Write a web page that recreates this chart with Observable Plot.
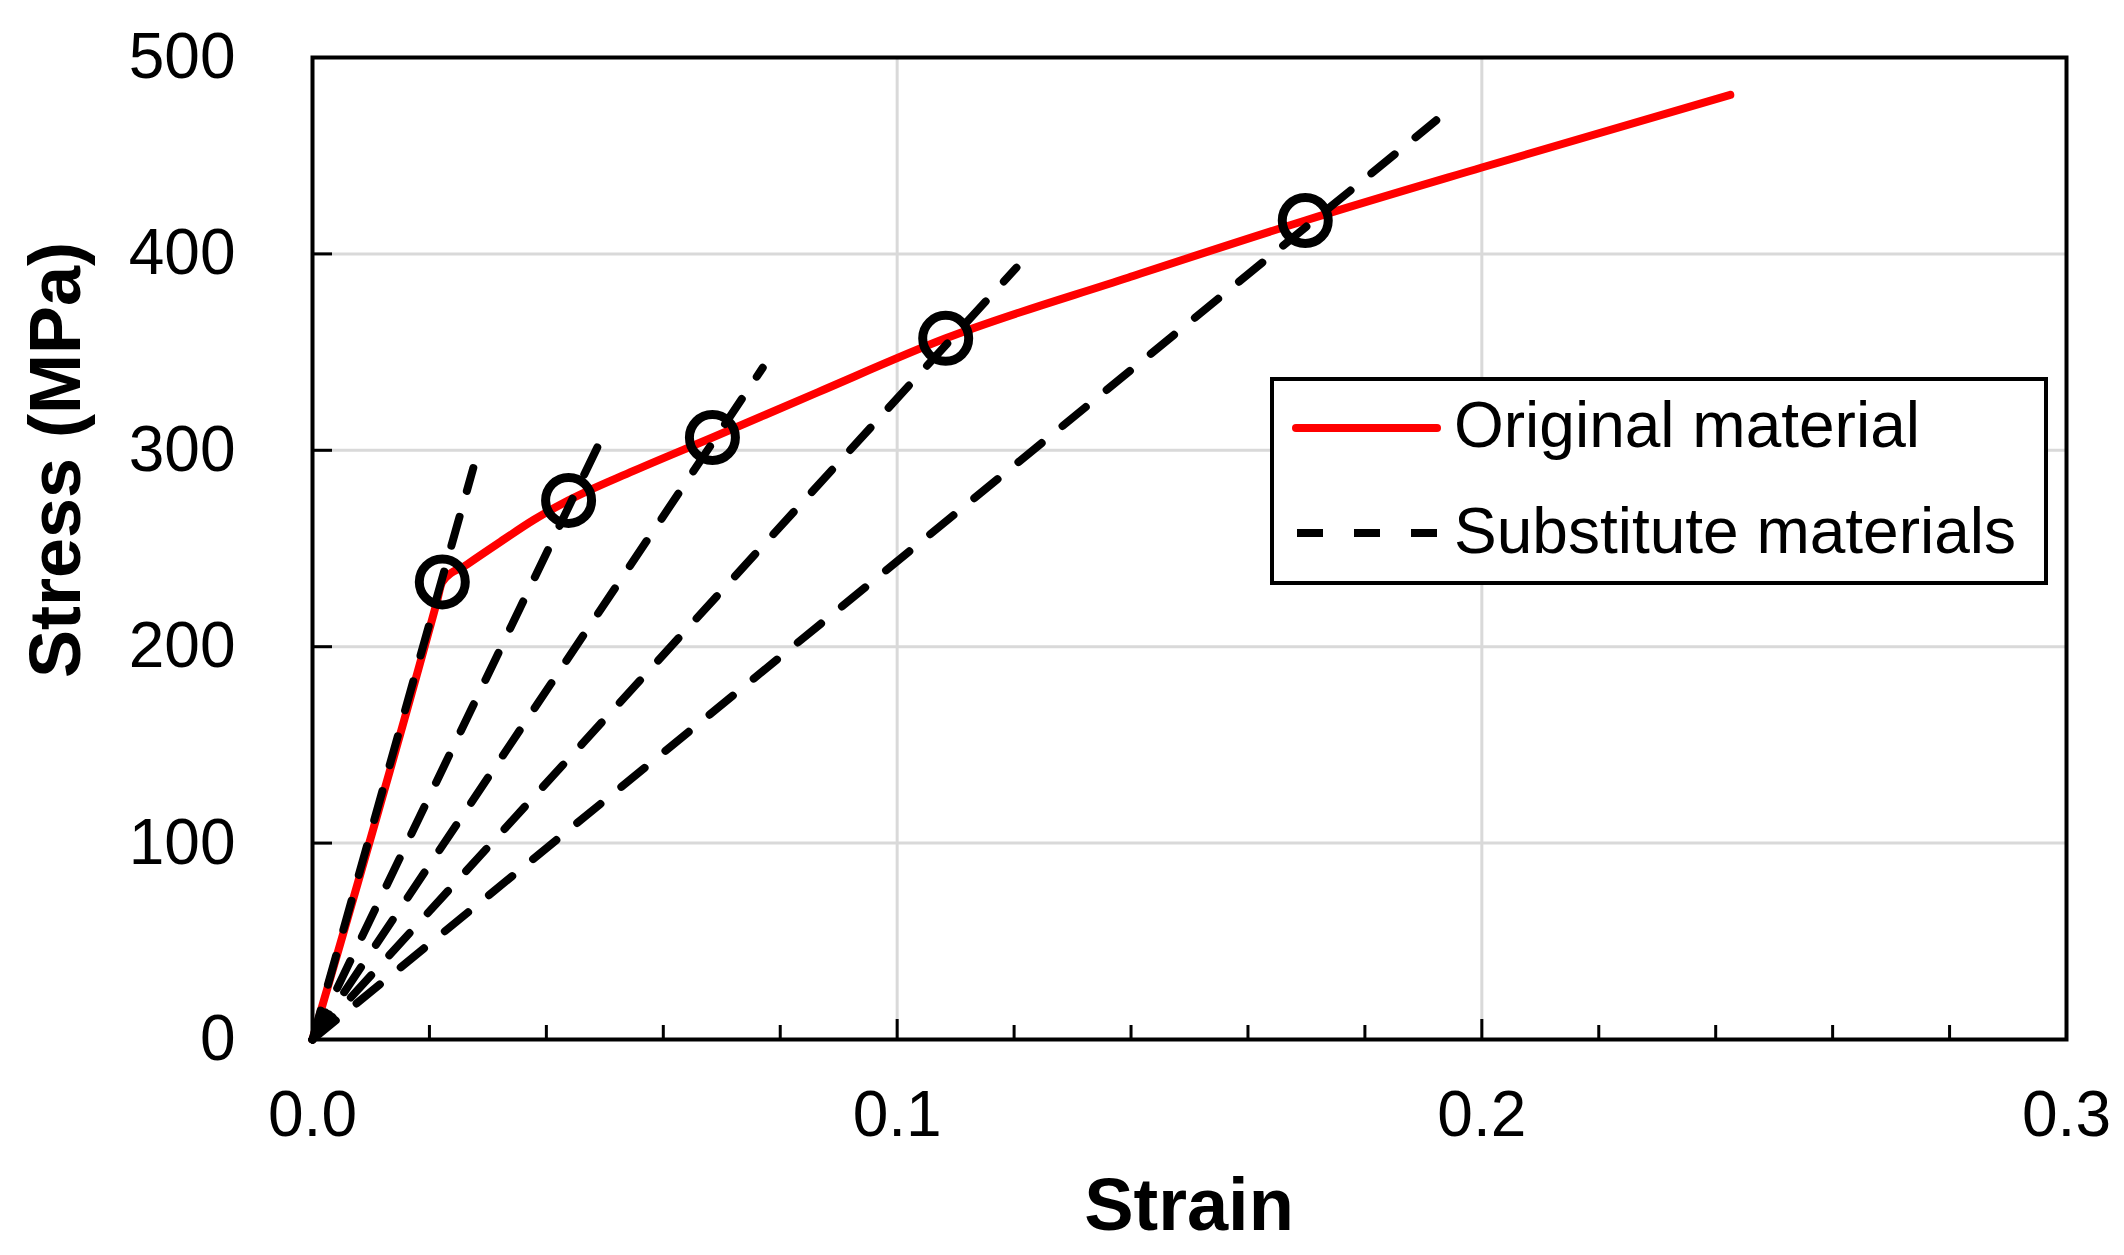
<!DOCTYPE html>
<html>
<head>
<meta charset="utf-8">
<script src="https://cdn.jsdelivr.net/npm/d3@7"></script>
<script src="https://cdn.jsdelivr.net/npm/@observablehq/plot@0.6"></script>
<style>
  html, body { margin: 0; padding: 0; background: white; }
  #chart { position: relative; width: 2124px; height: 1255px; }
</style>
</head>
<body>
<div id="chart"></div>
<script>
// Original material stress-strain curve
const strain = [0, 0.0212, 0.0222, 0.0265, 0.0322, 0.0378, 0.0438, 0.0549, 0.0684, 0.0864, 0.1083, 0.1396, 0.1698, 0.2, 0.2425];
const stress = [0, 222, 233, 242, 253.5, 264.5, 274.5, 289.5, 306.5, 329.5, 357, 388, 417, 444, 481];

// Transition points (circles)
const circleStrain = [0.0222, 0.0438, 0.0684, 0.1083, 0.1698];
const circleStress = [233, 274.5, 306.5, 357, 417];

// Substitute materials: straight lines from origin to these end points
const subEndStrain = [0.0275, 0.0496, 0.0770, 0.1204, 0.1922];
const subEndStress = [291, 307, 342, 393, 468];

// Axes
const xTicks = [0, 0.1, 0.2, 0.3];
const yTicks = [0, 100, 200, 300, 400, 500];
const xMinorTicks = [0.02, 0.04, 0.06, 0.08, 0.12, 0.14, 0.16, 0.18, 0.22, 0.24, 0.26, 0.28];
const xMajorInner = [0.1, 0.2];
const yInnerTicks = [100, 200, 300, 400];
const xGrid = [0.1, 0.2];
const yGrid = [100, 200, 300, 400];

const legendLabels = ["Original material", "Substitute materials"];

const W = 2124, H = 1255;
const mL = 312, mR = 58, mT = 57, mB = 216;
const frameW = W - mL - mR, frameH = H - mT - mB;

const original = strain.map((x, i) => ({x, y: stress[i]}));
const circles = circleStrain.map((x, i) => ({x, y: circleStress[i]}));
const subs = [];
subEndStrain.forEach((x, i) => {
  subs.push({id: i, x: 0, y: 0});
  subs.push({id: i, x, y: subEndStress[i]});
});

const plot = Plot.plot({
  width: W, height: H,
  marginLeft: mL, marginRight: mR, marginTop: mT, marginBottom: mB,
  style: {fontFamily: "'Liberation Sans', Arial, sans-serif", background: "white", color: "black"},
  x: {domain: [0, 0.3]},
  y: {domain: [0, 500]},
  marks: [
    Plot.gridX(xGrid, {stroke: "#d9d9d9", strokeOpacity: 1, strokeWidth: 3}),
    Plot.gridY(yGrid, {stroke: "#d9d9d9", strokeOpacity: 1, strokeWidth: 3}),
    Plot.ruleX(xMinorTicks, {x: d => d, insetTop: frameH - 14, stroke: "black", strokeWidth: 3}),
    Plot.ruleX(xMajorInner, {x: d => d, insetTop: frameH - 20, stroke: "black", strokeWidth: 3}),
    Plot.ruleY(yInnerTicks, {y: d => d, insetRight: frameW - 20, stroke: "black", strokeWidth: 3}),
    Plot.axisX(xTicks, {tickSize: 0, tickPadding: 51, tickFormat: d3.format(".1f"), fontSize: 64, label: null}),
    Plot.axisY(yTicks, {tickSize: 0, tickPadding: 77, fontSize: 64, label: null}),
    Plot.line(original, {x: "x", y: "y", stroke: "#ff0000", strokeWidth: 8, curve: "monotone-x"}),
    Plot.line(subs, {x: "x", y: "y", z: "id", stroke: "black", strokeWidth: 8, strokeDasharray: "30,27"}),
    Plot.dot(circles, {x: "x", y: "y", r: 23, stroke: "black", strokeWidth: 9, fill: "none"}),
    Plot.frame({stroke: "black", strokeWidth: 4})
  ]
});

document.getElementById("chart").appendChild(plot);

const svg = d3.select(plot);
const font = "'Liberation Sans', Arial, sans-serif";

svg.append("text")
  .attr("transform", "translate(80,460) rotate(-90)")
  .attr("text-anchor", "middle")
  .attr("font-family", font)
  .attr("font-weight", "bold")
  .attr("font-size", 72)
  .attr("fill", "black")
  .text("Stress (MPa)");

svg.append("text")
  .attr("x", mL + frameW / 2)
  .attr("y", 1230)
  .attr("text-anchor", "middle")
  .attr("font-family", font)
  .attr("font-weight", "bold")
  .attr("font-size", 74)
  .attr("fill", "black")
  .text("Strain");

// Legend
const lg = svg.append("g").attr("transform", "translate(1270,377)");
lg.append("rect").attr("x", 2).attr("y", 2).attr("width", 774).attr("height", 204)
  .attr("fill", "white").attr("stroke", "black").attr("stroke-width", 4);
lg.append("line").attr("x1", 26).attr("x2", 167).attr("y1", 51).attr("y2", 51)
  .attr("stroke", "#ff0000").attr("stroke-width", 8).attr("stroke-linecap", "round");
lg.append("line").attr("x1", 27).attr("x2", 167).attr("y1", 156).attr("y2", 156)
  .attr("stroke", "black").attr("stroke-width", 8).attr("stroke-dasharray", "26,31");
lg.append("text").attr("x", 184).attr("y", 70).attr("text-anchor", "start")
  .attr("font-family", font).attr("font-size", 64).attr("fill", "black").text(legendLabels[0]);
lg.append("text").attr("x", 184).attr("y", 176).attr("text-anchor", "start")
  .attr("font-family", font).attr("font-size", 64).attr("fill", "black").text(legendLabels[1]);
</script>
</body>
</html>
